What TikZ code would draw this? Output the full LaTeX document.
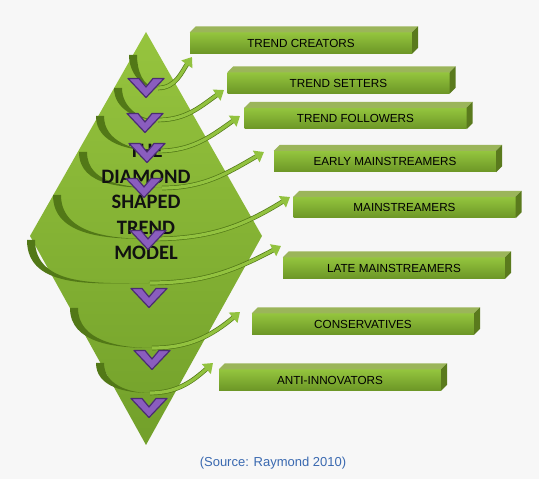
\documentclass[tikz,border=0pt]{standalone}
\usepackage{fontspec}
\setmainfont{Liberation Sans}
\newfontfamily\titlefont{Carlito}
\usetikzlibrary{arrows.meta}
\usetikzlibrary{calc}

\definecolor{bgcol}{HTML}{F7F7F7}
\definecolor{diaTop}{HTML}{96C43E}
\definecolor{diaBot}{HTML}{72A02A}
\definecolor{swirlDark}{HTML}{527817}
\definecolor{swirlLight}{HTML}{92C23F}
\definecolor{barTop}{HTML}{94C53E}
\definecolor{barBot}{HTML}{6C9626}
\definecolor{barLid}{HTML}{9BB55A}
\definecolor{barSide}{HTML}{5A7A1D}
\definecolor{chevFill}{HTML}{8A5DBE}
\definecolor{chevLine}{HTML}{4B2C73}
\definecolor{titleCol}{HTML}{111111}
\definecolor{srcCol}{HTML}{3A69B0}

\tikzset{
  bar/.style={minimum width=222pt, minimum height=21pt, inner sep=0pt,
    top color=barTop, bottom color=barBot, text=black,
    font=\fontsize{11.7}{13}\selectfont},
  barlid/.style={fill=barLid},
  barside/.style={fill=barSide},
  chev/.style={fill=chevFill, draw=chevLine, line width=1.2pt, line join=round},
  swirlback/.style={fill=swirlDark},
  swirledge/.style={draw=swirlDark, line width=4.6pt, shorten >=7pt},
  swirlfront/.style={draw=swirlLight, line width=3.2pt,
    -{Triangle[width=13pt,length=9pt]}},
}

\begin{document}
\begin{tikzpicture}[x=1pt,y=1pt]
    % Hintergrund
    \fill[bgcol] (0,0) rectangle (539,479);
    \useasboundingbox (0,0) rectangle (539,479);

    % Raute
    \shade[top color=diaTop, bottom color=diaBot]
        (146,447) -- (262,243) -- (146,34) -- (30,243) -- cycle;

    % Wirbel
    \foreach \i/\sx/\sy/\bx/\by/\tx/\ty/\ia in {
        1/133/424/158/391/192/422/235,
        2/118/391/158/359/224/389/215,
        3/100/363/158/328/240/363/215,
        4/83/327/162/291/264/327/210,
        5/57/284/152/240/290/282/212,
        6/31/239/150/196/281/233/208,
        7/74/171/152/131/240/167/220,
        8/100/116/150/86/213/116/222}{
        \coordinate (s\i) at (\sx,\sy);
        \coordinate (b\i) at (\bx,\by);
        \coordinate (t\i) at (\tx,\ty);
        \fill[swirlback] ($(s\i)+(-4,0)$) to[out=-90,in=180] (b\i)
            to[out=180,in=-90] ($(s\i)+(4,0)$) -- cycle;
        \draw[swirledge] (b\i) to[out=0,in=\ia] (t\i);
        \draw[swirlfront] (b\i) to[out=0,in=\ia] (t\i);
    }

    % Balken
    \foreach \n/\x/\y/\txt in {
        1/301/436/TREND CREATORS,
        2/338.5/396/TREND SETTERS,
        3/355.5/360.5/TREND FOLLOWERS,
        4/385/317.5/EARLY MAINSTREAMERS,
        5/404.5/271.5/MAINSTREAMERS,
        6/394/211/LATE MAINSTREAMERS,
        7/363/155/CONSERVATIVES,
        8/330/99/ANTI-INNOVATORS}{
        \node[bar] (box\n) at (\x,\y) {\txt};
        \fill[barlid] (box\n.north west) -- ++(6,6)
            -- ($(box\n.north east)+(6,6)$) -- (box\n.north east) -- cycle;
        \fill[barside] (box\n.north east) -- ++(6,6)
            -- ($(box\n.south east)+(6,6)$) -- (box\n.south east) -- cycle;
    }

    % Titel
    \node[font=\titlefont\bfseries\fontsize{20.5}{25.5}\selectfont,
        align=center, text=titleCol] (title) at (146,277)
        {THE\\DIAMOND\\SHAPED\\TREND\\MODEL};

    % Pfeilspitzen
    \foreach \i/\cx/\cy in {1/146/391, 2/145/356, 3/147/326, 4/144/291,
        5/148/239, 6/149/181, 7/152/119, 8/149/71}
        \filldraw[chev, shift={(\cx,\cy)}] (-18,9.5) -- (-7,9.5) -- (0,1)
            -- (7,9.5) -- (18,9.5) -- (0,-9.5) -- cycle;

    % Quelle
    \node[text=srcCol, font=\fontsize{13}{15}\selectfont] (source) at (273,16)
        {(Source: Raymond 2010)};
\end{tikzpicture}
\end{document}
